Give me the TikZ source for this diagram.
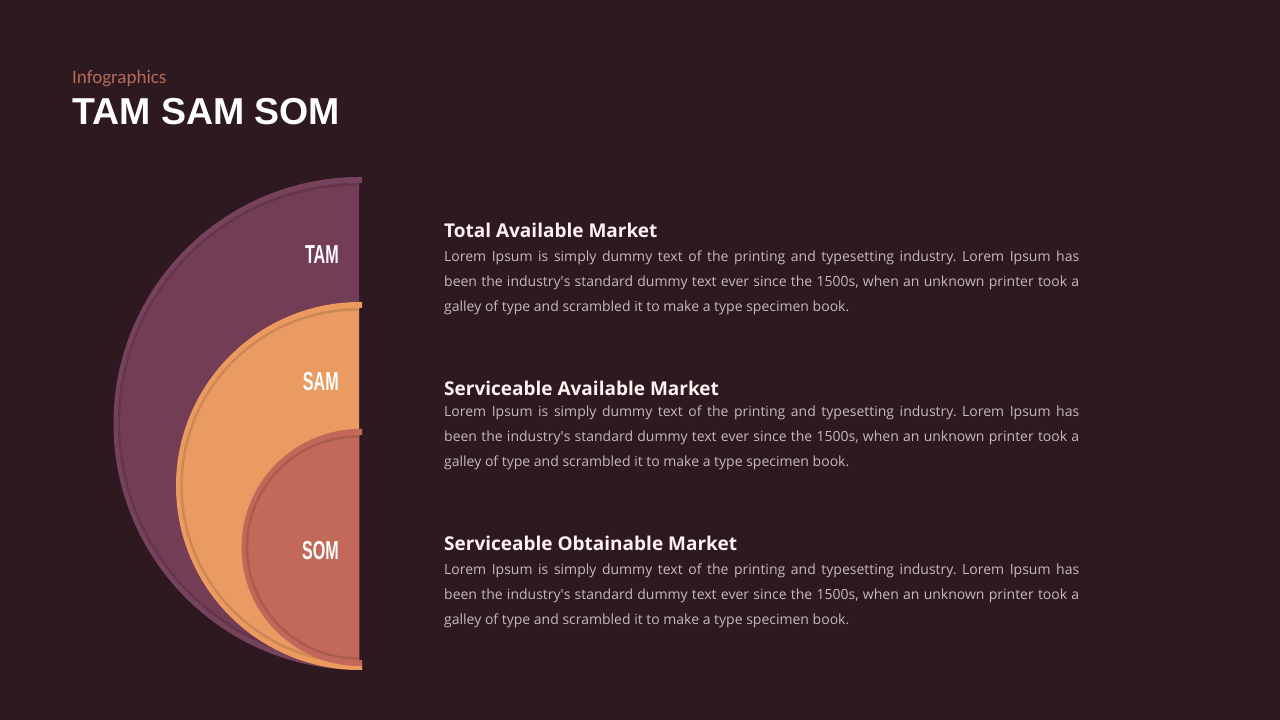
\documentclass[tikz,border=0pt]{standalone}
\usepackage{fontspec}
\setmainfont{Open Sans}
\newfontfamily\titlefont{Liberation Sans}
\newfontfamily\kickerfont{Carlito}

\definecolor{bgdark}{HTML}{2D191F}
\definecolor{tamrim}{HTML}{77425B}
\definecolor{tamfill}{HTML}{733E55}
\definecolor{samrim}{HTML}{EC9A5D}
\definecolor{samfill}{HTML}{E99B61}
\definecolor{somrim}{HTML}{C2685A}
\definecolor{somfill}{HTML}{C26959}
\definecolor{kickertext}{HTML}{B56A5A}
\definecolor{bodytext}{HTML}{C4BABD}

\tikzset{
  kicker/.style={inner sep=0pt, text=kickertext, font=\kickerfont\fontsize{19}{23}\selectfont},
  headline/.style={inner sep=0pt, text=white, font=\titlefont\bfseries\fontsize{37.5}{44}\selectfont},
  ringlabel/.style={inner sep=0pt, text=white, font=\titlefont\bfseries\fontsize{26}{30}\selectfont},
  itemhead/.style={inner sep=0pt, text=white!95!red, font=\bfseries\fontsize{19}{23}\selectfont},
  itembody/.style={inner sep=0pt, text=bodytext, text width=635pt, align=justify,
    font=\fontsize{14}{25}\selectfont\frenchspacing},
  rimshade/.style={draw=black, draw opacity=0.12, line width=2.5pt},
}

\begin{document}
\begin{tikzpicture}[x=1pt,y=1pt]
        \fill[bgdark] (0,0) rectangle (1280,720);
        % nested half discs: rim band, then inner face
        \foreach \cy/\r/\rim/\body in {296.5/246.5/tamrim/tamfill,234/184/samrim/samfill,172.5/118.5/somrim/somfill} {
            \fill[\rim] (362,\cy+\r) -- (360,\cy+\r) arc[start angle=90, end angle=270, radius=\r]
                -- (362,\cy-\r) -- (362,\cy-\r+6) -- (360,\cy-\r+6)
                arc[start angle=270, end angle=90, radius=\r-6] -- (362,\cy+\r-6) -- cycle;
            \fill[\body] (359,\cy+\r-6) -- (358,\cy+\r-6) arc[start angle=90, end angle=270, radius=\r-6]
                -- (359,\cy-\r+6) -- cycle;
            \draw[rimshade] (358,\cy+\r-7.5) arc[start angle=90, end angle=270, radius=\r-7.5];
        }
        \node[ringlabel, anchor=east] (tam) at (339,465) {\scalebox{0.62}[1]{TAM}};
        \node[ringlabel, anchor=east] (sam) at (339,338) {\scalebox{0.62}[1]{SAM}};
        \node[ringlabel, anchor=east] (som) at (339,169) {\scalebox{0.62}[1]{SOM}};
        % title
        \node[kicker, anchor=base west] (kicker) at (72,636) {Infographics};
        \node[headline, anchor=base west] (title) at (72,595) {TAM SAM SOM};
        % descriptions
        \foreach \n/\hy/\by/\head in {tamtext/482/458/Total Available Market,samtext/324/303/Serviceable Available Market,somtext/169/145/Serviceable Obtainable Market} {
            \node[itemhead, anchor=base west] (\n-head) at (444,\hy) {\head};
            \node[itembody, anchor=base west] (\n-body) at (444,\by) {Lorem Ipsum is simply dummy text of the printing and typesetting industry. Lorem Ipsum has\linebreak been the industry\textquotesingle s standard dummy text ever since the 1500s, when an unknown printer took a\linebreak galley of type and scrambled it to make a type specimen book.};
        }
\end{tikzpicture}
\end{document}
